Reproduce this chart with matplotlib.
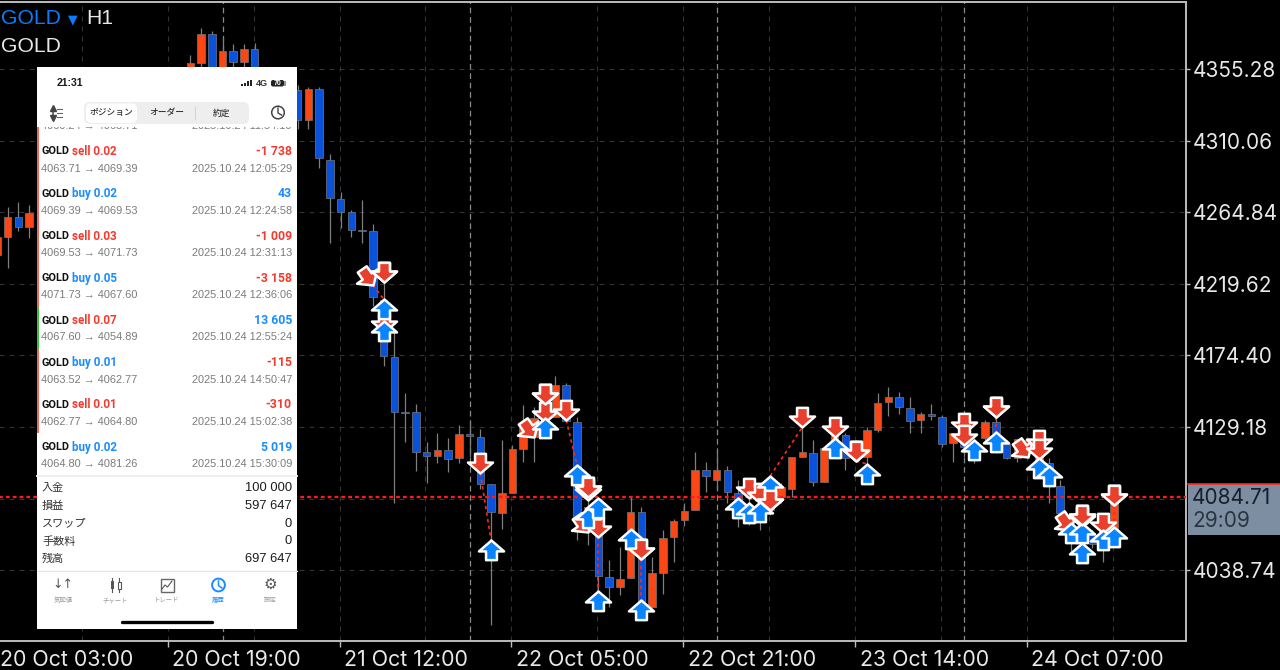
"""
GOLD H1 chart with a phone screenshot of the trade history on top of it.
"""

import matplotlib
matplotlib.use("Agg")
import matplotlib.pyplot as plt
from matplotlib.markers import MarkerStyle
from matplotlib.patches import Circle, FancyBboxPatch, Rectangle
from matplotlib.path import Path
from matplotlib.transforms import Affine2D, ScaledTranslation

LATIN = ["Liberation Sans", "DejaVu Sans"]
NARROW = ["Roboto", "Liberation Sans", "DejaVu Sans"]
AXIS_FONT = ["Inter", "Liberation Sans", "DejaVu Sans"]
CJK = ["Noto Sans CJK JP", "DejaVu Sans"]
plt.rcParams["font.family"] = LATIN

# candles hidden behind the phone panel are left out
candle_hour = ([-1, 0, 1, 2] + list(range(17, 24)) + list(range(27, 104)))
opens = [4237.8, 4249.2, 4261.8, 4255.5,
         4348.4, 4359.1, 4377.4, 4345.2, 4366.7, 4359.7, 4367.9,
         4342.1, 4323.1, 4342.7, 4297.8, 4273.2, 4265.0, 4253.6, 4253.0, 4209.4, 4173.4, 4138.7, 4138.7,
         4113.4, 4110.9, 4114.7, 4109.6, 4124.8, 4122.9, 4093.2, 4074.9, 4087.5, 4115.3, 4122.9, 4131.7,
         4135.5, 4155.7, 4132.4, 4062.9, 4062.3, 4034.5, 4028.1, 4033.8, 4075.5, 4015.5, 4037.0, 4059.7,
         4070.5, 4076.8, 4102.0, 4095.7, 4102.0, 4087.5, 4072.4, 4074.9, 4087.5, 4085.0, 4090.0, 4110.2,
         4112.8, 4094.5, 4115.9, 4124.2, 4110.2, 4110.2, 4127.3, 4145.0, 4148.2, 4141.2, 4133.6, 4137.4,
         4135.5, 4119.1, 4122.9, 4119.7, 4122.3, 4132.4, 4118.5, 4109.6, 4112.8, 4108.4, 4106.5, 4092.0,
         4064.1, 4068.6, 4061.0, 4055.9, 4064.1]
highs = [4256.8, 4268.2, 4271.3, 4269.4,
         4364.2, 4381.2, 4379.3, 4374.9, 4371.1, 4371.1, 4371.7,
         4345.2, 4343.9, 4343.9, 4301.6, 4277.6, 4266.3, 4272.6, 4257.4, 4223.9, 4190.5, 4150.7, 4143.7,
         4119.7, 4125.4, 4122.3, 4130.5, 4132.4, 4127.9, 4093.2, 4121.0, 4117.8, 4143.1, 4141.8, 4151.3,
         4161.4, 4157.0, 4135.5, 4083.1, 4083.1, 4045.2, 4053.4, 4085.0, 4078.7, 4047.1, 4064.2, 4071.1,
         4081.2, 4113.4, 4107.1, 4114.7, 4104.6, 4095.7, 4086.2, 4083.1, 4090.7, 4093.8, 4110.2, 4138.0,
         4121.0, 4115.9, 4126.7, 4125.4, 4121.0, 4129.2, 4150.7, 4154.5, 4151.3, 4148.2, 4138.7, 4143.7,
         4136.8, 4125.4, 4127.3, 4122.3, 4133.6, 4135.5, 4121.0, 4121.6, 4122.3, 4122.3, 4109.6, 4095.7,
         4072.4, 4073.6, 4064.2, 4072.4, 4085.0]
lows = [4229.6, 4229.6, 4253.0, 4248.6,
        4342.1, 4354.7, 4345.2, 4338.9, 4351.5, 4353.4, 4338.9,
        4317.4, 4317.4, 4292.8, 4245.4, 4254.9, 4249.2, 4245.4, 4205.6, 4167.7, 4081.2, 4119.7, 4101.4,
        4093.8, 4106.5, 4100.8, 4106.5, 4110.2, 4090.0, 4004.2, 4064.8, 4087.5, 4107.1, 4107.1, 4127.3,
        4135.5, 4133.0, 4057.8, 4054.7, 4015.5, 4015.5, 4023.1, 4033.8, 4010.5, 4015.5, 4023.7, 4043.9,
        4066.7, 4076.8, 4088.2, 4089.4, 4081.2, 4066.0, 4067.3, 4064.2, 4073.6, 4081.2, 4085.0, 4110.2,
        4091.9, 4094.5, 4113.4, 4102.0, 4108.4, 4103.9, 4126.0, 4136.1, 4137.4, 4125.4, 4125.4, 4133.6,
        4116.6, 4107.1, 4110.2, 4106.5, 4121.0, 4112.8, 4109.0, 4107.1, 4109.6, 4105.2, 4081.2, 4070.5,
        4050.3, 4054.7, 4052.8, 4043.9, 4064.1]
closes = [4249.2, 4261.8, 4255.5, 4264.4,
          4359.1, 4377.4, 4351.5, 4366.7, 4359.7, 4367.9, 4345.2,
          4323.1, 4342.7, 4299.1, 4273.8, 4265.0, 4253.6, 4253.0, 4211.3, 4174.0, 4138.7, 4138.0, 4113.4,
          4110.9, 4114.7, 4109.0, 4124.8, 4123.5, 4093.2, 4075.5, 4087.5, 4115.3, 4128.6, 4134.9, 4147.5,
          4155.7, 4133.0, 4071.1, 4078.7, 4035.1, 4028.1, 4033.2, 4075.5, 4018.7, 4037.0, 4059.1, 4069.8,
          4076.1, 4102.0, 4098.2, 4102.0, 4088.2, 4078.7, 4078.7, 4069.2, 4076.8, 4091.3, 4110.2, 4113.4,
          4094.5, 4115.9, 4124.2, 4109.6, 4119.1, 4127.3, 4144.4, 4148.2, 4141.8, 4133.0, 4137.4, 4136.1,
          4118.5, 4125.4, 4116.6, 4114.7, 4132.4, 4125.4, 4109.6, 4121.6, 4121.0, 4119.7, 4097.6, 4074.9,
          4057.8, 4062.3, 4055.3, 4066.0, 4081.2]

sell_hour = [35, 35, 44, 50, 50, 52, 54, 54, 55, 59, 69, 70, 71, 74, 77, 79, 89, 89, 92, 96, 96, 100, 100, 102, 103]
sell_price = [4220.8, 4189.2, 4100.1, 4143.7, 4132.4, 4133.6, 4085.0, 4083.1, 4059.7, 4045.8, 4084.4, 4081.2,
              4076.8, 4129.2, 4122.9, 4107.7, 4125.4, 4117.8, 4135.5, 4114.7, 4109.0, 4067.3, 4066.0, 4062.2, 4079.9]
tilted_hour = [34, 49, 54, 95, 99]
tilted_price = [4218.9, 4122.9, 4062.9, 4110.2, 4064.1]
buy_hour = [35, 35, 45, 50, 53, 54, 55, 55, 58, 59, 68, 69, 70, 71, 77, 80, 90, 92, 96, 97, 99, 100, 100, 102, 103]
buy_price = [4210.0, 4196.1, 4057.8, 4134.9, 4105.2, 4078.0, 4084.3, 4025.6, 4064.8, 4019.9, 4084.3, 4081.2,
             4081.8, 4098.2, 4122.2, 4105.8, 4121.0, 4126.0, 4109.6, 4104.6, 4068.6, 4068.6, 4055.9, 4064.1, 4066.0]

link_hour_a = [34, 44, 49, 52, 55, 55, 59, 71, 71, 79, 92, 96, 100, 103, 69]
link_price_a = [4218.9, 4100.1, 4122.9, 4133.6, 4059.7, 4084.3, 4045.8, 4098.2, 4098.2, 4107.7, 4135.5, 4109.0,
                4066.0, 4079.9, 4084.4]
link_hour_b = [35, 45, 50, 53, 55, 54, 59, 74, 71, 80, 92, 97, 100, 103, 70]
link_price_b = [4210.0, 4057.8, 4134.9, 4105.2, 4025.6, 4062.9, 4019.9, 4129.2, 4076.8, 4105.8, 4126.0, 4104.6,
                4055.9, 4066.0, 4081.8]

bid_price = 4084.71
price_ticks = [4355.28, 4310.06, 4264.84, 4219.62, 4174.40, 4129.18, 4038.74]
price_grid = [4355.28, 4310.06, 4264.84, 4219.62, 4174.40, 4129.18, 4083.96, 4038.74]
time_ticks = [-1.1, 14.9, 30.9, 46.9, 62.9, 78.9, 94.9]
time_labels = ["20 Oct 03:00", "20 Oct 19:00", "21 Oct 12:00", "22 Oct 05:00",
               "22 Oct 21:00", "23 Oct 14:00", "24 Oct 07:00"]
minor_grid = [6.9, 22.9, 38.9, 54.9, 70.9, 86.9, 102.9]
day_separators = [20, 43, 66, 89]

row_side = ["sell", "buy", "sell", "buy", "sell", "buy", "sell", "buy"]
row_lots = ["0.02", "0.02", "0.03", "0.05", "0.07", "0.01", "0.01", "0.02"]
row_open = ["4063.71", "4069.39", "4069.53", "4071.73", "4067.60", "4063.52", "4062.77", "4064.80"]
row_close = ["4069.39", "4069.53", "4071.73", "4067.60", "4054.89", "4062.77", "4064.80", "4081.26"]
row_time = ["2025.10.24 12:05:29", "2025.10.24 12:24:58", "2025.10.24 12:31:13", "2025.10.24 12:36:06",
            "2025.10.24 12:55:24", "2025.10.24 14:50:47", "2025.10.24 15:02:38", "2025.10.24 15:30:09"]
row_profit = ["-1 738", "43", "-1 009", "-3 158", "13 605", "-115", "-310", "5 019"]
summary_names = ["入金", "損益", "スワップ", "手数料", "残高"]
summary_values = ["100 000", "597 647", "0", "0", "697 647"]
tab_names = ["気配値", "チャート", "トレード", "履歴", "設定"]
segment_names = ["ポジション", "オーダー", "約定"]

BULL = "#fb4615"
BEAR = "#0a52dc"
TRADE_RED = "#e8402c"
TRADE_BLUE = "#0a84ff"
UI_RED = "#f23b2f"
UI_BLUE = "#1a8cff"
GREY = "#7b7b7b"

fig = plt.figure(figsize=(12.8, 6.7), dpi=100, facecolor="black")
W, H = 1280.0, 670.0

# axes start left of the canvas so the first time tick (off screen) keeps its label
ax = fig.add_axes([-20 / W, 1 - 640.5 / H, 1206 / W, 638.5 / H], facecolor="black")
ax.set_xlim(-2.58, 109.71)
ax.set_ylim(3994.3, 4397.6)
ax.spines["left"].set_visible(False)
for name in ["top", "right", "bottom"]:
    ax.spines[name].set_color("#bdbdbd")
    ax.spines[name].set_linewidth(1.4)

for price in price_grid:
    ax.axhline(price, color="#333333", lw=0.8, dashes=(4.5, 4.5), zorder=1)
for hour in time_ticks + minor_grid:
    ax.axvline(hour, color="#333333", lw=0.8, dashes=(4.5, 4.5), zorder=1)
for hour in day_separators:
    ax.axvline(hour, color="#8a8a8a", lw=0.9, dashes=(4.5, 3), zorder=1)

ax.yaxis.tick_right()
ax.set_yticks(price_ticks)
ax.set_yticklabels(["%.2f" % p for p in price_ticks], family=AXIS_FONT, fontsize=15, color="#e8e8e8")
ax.tick_params(axis="y", length=3, width=1, color="#bdbdbd", pad=1.5)
ax.set_xticks(time_ticks)
ax.set_xticklabels(time_labels, family=AXIS_FONT, fontsize=15.4, color="#e8e8e8", ha="left")
ax.tick_params(axis="x", length=4, width=1, color="#bdbdbd", pad=3)
nudge = ScaledTranslation(0.045, 0, fig.dpi_scale_trans)
for label in ax.get_xticklabels():
    label.set_transform(label.get_transform() + nudge)

ax.vlines(candle_hour, lows, highs, color="#7f7f7f", lw=0.9, zorder=2)
for hour, o, c in zip(candle_hour, opens, closes):
    colour = BULL if c >= o else BEAR
    ax.bar(hour, max(abs(c - o), 0.6), bottom=min(o, c), width=0.7, color=colour,
           edgecolor="#777777", linewidth=0.5, zorder=3)

ax.axhline(bid_price, color="#ff1a1a", lw=1.7, dashes=(1.6, 1.3), zorder=4)

for xa, pa, xb, pb in zip(link_hour_a, link_price_a, link_hour_b, link_price_b):
    ax.plot([xa, xb], [pa, pb], color="#ff2a1a", lw=1.2, dashes=(2, 2), zorder=5)

ARROW_UP = [(0, 0), (11.5, -10), (5, -10), (5, -18), (-5, -18), (-5, -10), (-11.5, -10), (0, 0)]
ARROW_DOWN = [(x, -y) for x, y in ARROW_UP]
up_marker = MarkerStyle(Path(ARROW_UP, closed=True), joinstyle="miter")
down_marker = MarkerStyle(Path(ARROW_DOWN, closed=True), joinstyle="miter")
tilted_marker = MarkerStyle(Path(ARROW_DOWN, closed=True), joinstyle="miter",
                            transform=Affine2D().rotate_deg(35))
ARROW_SIZE = 800

ax.scatter(tilted_hour, tilted_price, marker=tilted_marker, s=ARROW_SIZE, c=TRADE_RED,
           edgecolors="white", linewidths=1.8, zorder=6)
ax.scatter(sell_hour, sell_price, marker=down_marker, s=ARROW_SIZE, c=TRADE_RED,
           edgecolors="white", linewidths=1.8, zorder=6)
ax.scatter(buy_hour, buy_price, marker=up_marker, s=ARROW_SIZE, c=TRADE_BLUE,
           edgecolors="white", linewidths=1.8, zorder=7)
# some of the sells sit on top of the buys
for hour, price in zip(sell_hour[::3], sell_price[::3]):
    ax.scatter([hour], [price], marker=down_marker, s=ARROW_SIZE, c=TRADE_RED,
               edgecolors="white", linewidths=1.8, zorder=8)

# overlay in screen pixels for the header, the price box and the phone panel
ui = fig.add_axes([0, 0, 1, 1], facecolor="none")
ui.set_xlim(0, W)
ui.set_ylim(H, 0)
ui.axis("off")

ui.text(1, 19, "GOLD", color="#0a7cff", fontsize=15.2, va="center")
ui.text(73, 19.5, "▼", color="#0a7cff", fontsize=9, va="center", ha="center", family="DejaVu Sans")
ui.text(86, 19, "H1", color="#e8e8e8", fontsize=15.2, va="center")
ui.text(1, 46, "GOLD", color="#e8e8e8", fontsize=15.2, va="center")

ui.add_patch(Rectangle((1188, 484), 92, 50.5, color="#7d8ea2", lw=0, zorder=2))
ui.plot([1188, 1280], [484, 484], color="#ff2a1a", lw=1.2, zorder=3)
ui.text(1192, 498, "%.2f" % bid_price, family=AXIS_FONT, fontsize=15, color="#16202c", va="center", zorder=4)
ui.text(1192, 521, "29:09", family=AXIS_FONT, fontsize=15, color="#2b3542", va="center", zorder=4)

ui.add_patch(Rectangle((37, 67), 259.5, 562, color="white", lw=0, zorder=2))
ui.text(57, 83, "21:31", fontsize=7.6, weight="bold", color="#1a1a1a", va="center", zorder=5)
for i, bar_h in enumerate([2, 3.5, 5, 6.5]):
    ui.add_patch(Rectangle((241 + i * 3, 86 - bar_h), 2, bar_h, color="#222222", lw=0, zorder=5))
ui.text(256, 83, "4G", fontsize=6.5, weight="bold", color="#333333", va="center", zorder=5)
ui.add_patch(FancyBboxPatch((271, 80), 13, 6.5, boxstyle="round,pad=0,rounding_size=2", color="#222222", lw=0, zorder=5))
ui.add_patch(Rectangle((284, 81), 1.5, 4.5, color="#999999", lw=0, zorder=5))
ui.text(277.5, 83.3, "70", fontsize=5, weight="bold", color="white", ha="center", va="center", zorder=6)

# rows first, header band covers the half hidden row
top_y = 151.5
step = 42.25
for i in range(len(row_side)):
    y = top_y + i * step
    colour = UI_RED if row_side[i] == "sell" else UI_BLUE
    profit_colour = UI_RED if row_profit[i].startswith("-") else UI_BLUE
    ui.text(42, y, "GOLD", family=NARROW, fontsize=7.8, weight="bold", color="#111111", va="center", zorder=3)
    ui.text(71.5, y, row_side[i] + " " + row_lots[i], family=NARROW, fontsize=8.4, weight="bold",
            color=colour, va="center", zorder=3)
    ui.text(292, y, row_profit[i], family=NARROW, fontsize=8.8, weight="bold", color=profit_colour,
            ha="right", va="center", zorder=3)
    ui.text(41, y + 17, row_open[i] + " → " + row_close[i], fontsize=7.9, color=GREY, va="center", zorder=3)
    ui.text(292, y + 17, row_time[i], fontsize=7.9, color=GREY, ha="right", va="center", zorder=3)

ui.text(41, 126, "4060.24 → 4063.71", fontsize=7.9, color=GREY, va="center", zorder=3)
ui.text(292, 126, "2025.10.24 11:54:10", fontsize=7.9, color=GREY, ha="right", va="center", zorder=3)
ui.add_patch(Rectangle((37, 67), 259.5, 60, color="white", lw=0, zorder=4))

ui.add_patch(Rectangle((37, 127), 2, 180, color="#ec6a5e", lw=0, zorder=5))
ui.add_patch(Rectangle((37, 307), 2, 42, color="#3cc13b", lw=0, zorder=5))
ui.add_patch(Rectangle((37, 349), 2, 84, color="#ec6a5e", lw=0, zorder=5))

ui.add_patch(FancyBboxPatch((84, 102), 165, 22, boxstyle="round,pad=0,rounding_size=6", color="#eeeeef", lw=0, zorder=5))
ui.add_patch(FancyBboxPatch((86, 103.5), 51, 19.5, boxstyle="round,pad=0,rounding_size=5", color="white", lw=0, zorder=6))
ui.plot([194.5, 194.5], [107, 119], color="#d5d5d5", lw=0.8, zorder=6)
for name, cx in zip(segment_names, [111, 167, 222]):
    ui.text(cx, 113, name, family=CJK, fontsize=6.3, weight="medium", color="#333333", ha="center", va="center", zorder=7)
ui.plot([52.5, 52.5], [108, 118], color="#444444", lw=1.1, zorder=6)
ui.plot([52.5], [108], marker="^", ms=4, color="#444444", zorder=6)
ui.plot([52.5], [118], marker="v", ms=4, color="#444444", zorder=6)
for level in [109, 113, 117]:
    ui.plot([56.5, 62], [level, level], color="#666666", lw=0.8, zorder=6)
ui.add_patch(Circle((278, 112.5), 6.3, fill=False, ec="#444444", lw=1.1, zorder=6))
ui.plot([278, 278, 281.5], [108, 113, 115], color="#444444", lw=1, zorder=6)

ui.plot([37, 296.5], [476, 476], color="#eeeeee", lw=1.4, zorder=3)
ui.plot([37, 296.5], [571, 571], color="#e6e6e6", lw=0.9, zorder=3)
for i, (name, value) in enumerate(zip(summary_names, summary_values)):
    y = 488 + i * 17.8
    ui.text(42, y, name, family=CJK, fontsize=8, color="#333333", va="center", zorder=3)
    ui.text(292, y, value, fontsize=9.3, color="#1c1c1c", ha="right", va="center", zorder=3)

for i, (name, cx) in enumerate(zip(tab_names, [63, 115, 167, 218.5, 270])):
    colour = UI_BLUE if i == 3 else "#9a9a9a"
    ui.text(cx, 600, name, family=CJK, fontsize=4.6, color=colour, ha="center", va="center", zorder=3)

# tab icons
ui.text(63, 584.5, "↓↑", family="DejaVu Sans", fontsize=9, color="#555555", ha="center", va="center", zorder=3)
ui.plot([112, 112], [578, 592], color="#555555", lw=0.8, zorder=3)
ui.plot([119, 119], [578, 592], color="#555555", lw=0.8, zorder=3)
ui.add_patch(Rectangle((110.5, 581), 3, 8, color="#555555", lw=0, zorder=4))
ui.add_patch(Rectangle((117.5, 582), 3, 7, fc="white", ec="#555555", lw=0.8, zorder=4))
ui.add_patch(Rectangle((160.5, 578.5), 13, 13, fill=False, ec="#666666", lw=1, zorder=3))
ui.plot([162, 165, 167.5, 172], [589, 585, 587, 581], color="#555555", lw=0.8, zorder=3)
ui.add_patch(Circle((218.5, 585), 6.4, fill=False, ec=UI_BLUE, lw=1.4, zorder=3))
ui.plot([218.5, 218.5, 222], [581, 585.5, 588], color=UI_BLUE, lw=1.1, zorder=3)
ui.text(270.5, 584.5, "⚙", family="DejaVu Sans", fontsize=11, color="#555555", ha="center", va="center", zorder=3)
ui.plot([122, 212], [621.5, 621.5], color="black", lw=2.4, solid_capstyle="round", zorder=3)

fig.savefig("out.png", dpi=100, facecolor="black")
